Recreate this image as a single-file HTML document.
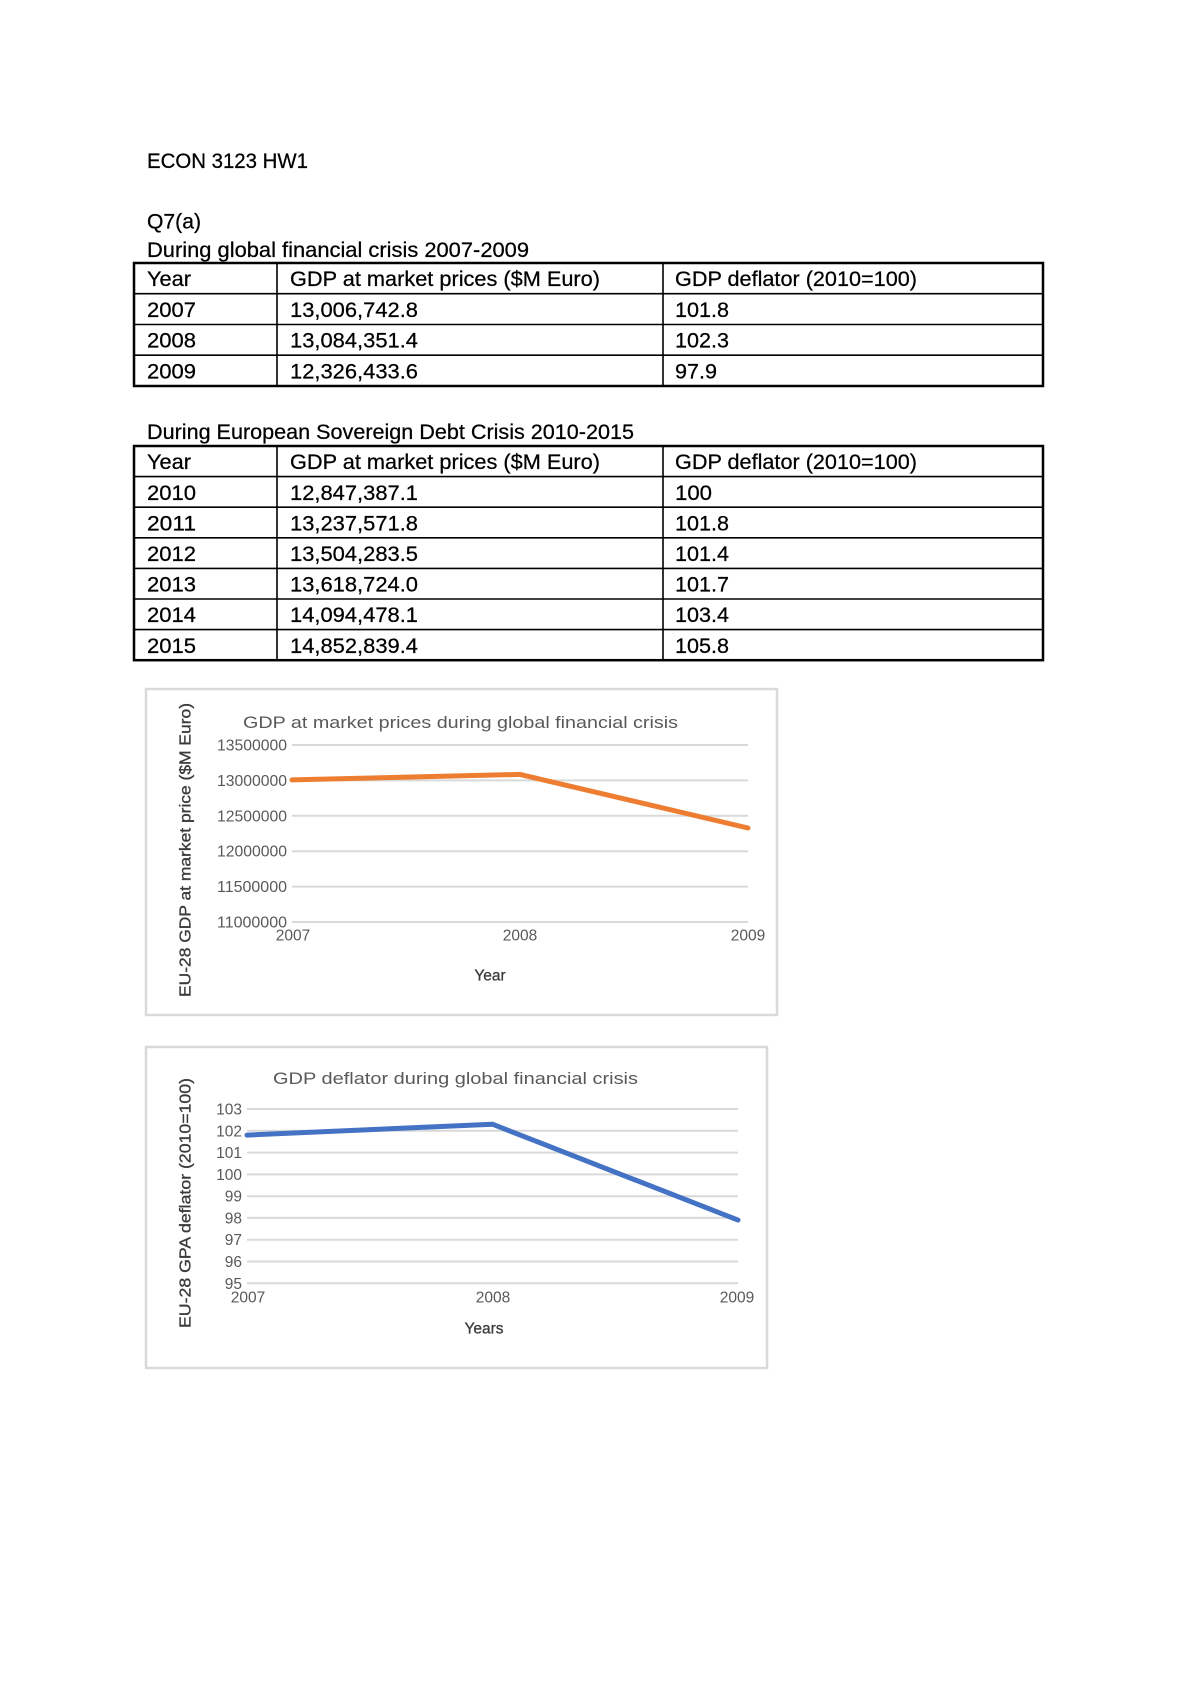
<!DOCTYPE html>
<html>
<head>
<meta charset="utf-8">
<style>
  html, body { margin: 0; padding: 0; background: #ffffff; }
  body { width: 1200px; height: 1698px; overflow: hidden; }
  svg { display: block; }
  .doc { font-family: "Liberation Sans", sans-serif; font-size: 21px; fill: #000; stroke: #000; stroke-width: 0.25px; }
  .ct { font-family: "Liberation Sans", sans-serif; font-size: 15.5px; fill: #595959; }
  .ttl { font-family: "Liberation Sans", sans-serif; font-size: 17px; fill: #595959; }
  .ax { font-family: "Liberation Sans", sans-serif; font-size: 15.5px; fill: #3a3a3a; stroke: #3a3a3a; stroke-width: 0.3px; }
</style>
</head>
<body>
<svg width="1200" height="1698" viewBox="0 0 1200 1698" xmlns="http://www.w3.org/2000/svg">
  <rect x="0" y="0" width="1200" height="1698" fill="#ffffff"/>

  <!-- Header text -->
  <text class="doc" x="147" y="168" textLength="161" lengthAdjust="spacingAndGlyphs">ECON 3123 HW1</text>
  <text class="doc" x="147" y="228.5" textLength="54" lengthAdjust="spacingAndGlyphs">Q7(a)</text>
  <text class="doc" x="147" y="257" textLength="382" lengthAdjust="spacingAndGlyphs">During global financial crisis 2007-2009</text>

  <!-- Table 1 -->
  <g stroke="#000" fill="none">
    <rect x="134" y="263" width="909" height="123" stroke-width="2.5"/>
    <line x1="134" y1="293.7" x2="1043" y2="293.7" stroke-width="1.6"/>
    <line x1="134" y1="324.5" x2="1043" y2="324.5" stroke-width="1.6"/>
    <line x1="134" y1="355.2" x2="1043" y2="355.2" stroke-width="1.6"/>
    <line x1="277" y1="263" x2="277" y2="386" stroke-width="1.6"/>
    <line x1="663" y1="263" x2="663" y2="386" stroke-width="1.6"/>
  </g>
  <g class="doc">
    <text x="147" y="286" textLength="44" lengthAdjust="spacingAndGlyphs">Year</text>
    <text x="290" y="286" textLength="310" lengthAdjust="spacingAndGlyphs">GDP at market prices ($M Euro)</text>
    <text x="675" y="286" textLength="242" lengthAdjust="spacingAndGlyphs">GDP deflator (2010=100)</text>

    <text x="147" y="316.8" textLength="49" lengthAdjust="spacingAndGlyphs">2007</text>
    <text x="290" y="316.8" textLength="128" lengthAdjust="spacingAndGlyphs">13,006,742.8</text>
    <text x="675" y="316.8" textLength="54" lengthAdjust="spacingAndGlyphs">101.8</text>

    <text x="147" y="347.5" textLength="49" lengthAdjust="spacingAndGlyphs">2008</text>
    <text x="290" y="347.5" textLength="128" lengthAdjust="spacingAndGlyphs">13,084,351.4</text>
    <text x="675" y="347.5" textLength="54" lengthAdjust="spacingAndGlyphs">102.3</text>

    <text x="147" y="378.3" textLength="49" lengthAdjust="spacingAndGlyphs">2009</text>
    <text x="290" y="378.3" textLength="128" lengthAdjust="spacingAndGlyphs">12,326,433.6</text>
    <text x="675" y="378.3" textLength="42" lengthAdjust="spacingAndGlyphs">97.9</text>
  </g>

  <!-- Table 2 heading -->
  <text class="doc" x="147" y="439" textLength="487" lengthAdjust="spacingAndGlyphs">During European Sovereign Debt Crisis 2010-2015</text>

  <!-- Table 2 -->
  <g stroke="#000" fill="none">
    <rect x="134" y="446" width="909" height="214.2" stroke-width="2.5"/>
    <line x1="134" y1="476.6" x2="1043" y2="476.6" stroke-width="1.6"/>
    <line x1="134" y1="507.2" x2="1043" y2="507.2" stroke-width="1.6"/>
    <line x1="134" y1="537.8" x2="1043" y2="537.8" stroke-width="1.6"/>
    <line x1="134" y1="568.4" x2="1043" y2="568.4" stroke-width="1.6"/>
    <line x1="134" y1="599" x2="1043" y2="599" stroke-width="1.6"/>
    <line x1="134" y1="629.6" x2="1043" y2="629.6" stroke-width="1.6"/>
    <line x1="277" y1="446" x2="277" y2="660.2" stroke-width="1.6"/>
    <line x1="663" y1="446" x2="663" y2="660.2" stroke-width="1.6"/>
  </g>
  <g class="doc">
    <text x="147" y="469" textLength="44" lengthAdjust="spacingAndGlyphs">Year</text>
    <text x="290" y="469" textLength="310" lengthAdjust="spacingAndGlyphs">GDP at market prices ($M Euro)</text>
    <text x="675" y="469" textLength="242" lengthAdjust="spacingAndGlyphs">GDP deflator (2010=100)</text>

    <text x="147" y="499.8" textLength="49" lengthAdjust="spacingAndGlyphs">2010</text>
    <text x="290" y="499.8" textLength="128" lengthAdjust="spacingAndGlyphs">12,847,387.1</text>
    <text x="675" y="499.8" textLength="37" lengthAdjust="spacingAndGlyphs">100</text>

    <text x="147" y="530.4" textLength="49" lengthAdjust="spacingAndGlyphs">2011</text>
    <text x="290" y="530.4" textLength="128" lengthAdjust="spacingAndGlyphs">13,237,571.8</text>
    <text x="675" y="530.4" textLength="54" lengthAdjust="spacingAndGlyphs">101.8</text>

    <text x="147" y="561" textLength="49" lengthAdjust="spacingAndGlyphs">2012</text>
    <text x="290" y="561" textLength="128" lengthAdjust="spacingAndGlyphs">13,504,283.5</text>
    <text x="675" y="561" textLength="54" lengthAdjust="spacingAndGlyphs">101.4</text>

    <text x="147" y="591.6" textLength="49" lengthAdjust="spacingAndGlyphs">2013</text>
    <text x="290" y="591.6" textLength="128" lengthAdjust="spacingAndGlyphs">13,618,724.0</text>
    <text x="675" y="591.6" textLength="54" lengthAdjust="spacingAndGlyphs">101.7</text>

    <text x="147" y="622.2" textLength="49" lengthAdjust="spacingAndGlyphs">2014</text>
    <text x="290" y="622.2" textLength="128" lengthAdjust="spacingAndGlyphs">14,094,478.1</text>
    <text x="675" y="622.2" textLength="54" lengthAdjust="spacingAndGlyphs">103.4</text>

    <text x="147" y="652.8" textLength="49" lengthAdjust="spacingAndGlyphs">2015</text>
    <text x="290" y="652.8" textLength="128" lengthAdjust="spacingAndGlyphs">14,852,839.4</text>
    <text x="675" y="652.8" textLength="54" lengthAdjust="spacingAndGlyphs">105.8</text>
  </g>

  <!-- ============ Chart 1 ============ -->
  <rect x="146" y="689" width="631" height="326" fill="#ffffff" stroke="#d9d9d9" stroke-width="2.5"/>
  <text class="ttl" x="243" y="728" textLength="435" lengthAdjust="spacingAndGlyphs">GDP at market prices during global financial crisis</text>
  <g stroke="#d9d9d9" stroke-width="2">
    <line x1="292" y1="745" x2="748" y2="745"/>
    <line x1="292" y1="780.4" x2="748" y2="780.4"/>
    <line x1="292" y1="815.8" x2="748" y2="815.8"/>
    <line x1="292" y1="851.2" x2="748" y2="851.2"/>
    <line x1="292" y1="886.6" x2="748" y2="886.6"/>
    <line x1="292" y1="922" x2="748" y2="922"/>
  </g>
  <g class="ct" text-anchor="end">
    <text x="287" y="750.5" textLength="70" lengthAdjust="spacingAndGlyphs">13500000</text>
    <text x="287" y="785.9" textLength="70" lengthAdjust="spacingAndGlyphs">13000000</text>
    <text x="287" y="821.3" textLength="70" lengthAdjust="spacingAndGlyphs">12500000</text>
    <text x="287" y="856.7" textLength="70" lengthAdjust="spacingAndGlyphs">12000000</text>
    <text x="287" y="892.1" textLength="70" lengthAdjust="spacingAndGlyphs">11500000</text>
    <text x="287" y="927.5" textLength="70" lengthAdjust="spacingAndGlyphs">11000000</text>
  </g>
  <g class="ct" text-anchor="middle">
    <text x="293" y="940.5">2007</text>
    <text x="520" y="940.5">2008</text>
    <text x="748" y="940.5">2009</text>
  </g>
  <polyline points="292,779.9 520,774.4 748,828" fill="none" stroke="#ED7D31" stroke-width="5" stroke-linejoin="round" stroke-linecap="round"/>
  <text class="ax" x="0" y="0" text-anchor="middle" textLength="294" lengthAdjust="spacingAndGlyphs" transform="translate(190.5,850) rotate(-90)">EU-28 GDP at market price ($M Euro)</text>
  <text class="ax" x="490" y="980.5" text-anchor="middle">Year</text>

  <!-- ============ Chart 2 ============ -->
  <rect x="146" y="1047" width="621" height="321" fill="#ffffff" stroke="#d9d9d9" stroke-width="2.5"/>
  <text class="ttl" x="273" y="1084" textLength="365" lengthAdjust="spacingAndGlyphs">GDP deflator during global financial crisis</text>
  <g stroke="#d9d9d9" stroke-width="2">
    <line x1="247" y1="1109" x2="738" y2="1109"/>
    <line x1="247" y1="1130.8" x2="738" y2="1130.8"/>
    <line x1="247" y1="1152.6" x2="738" y2="1152.6"/>
    <line x1="247" y1="1174.4" x2="738" y2="1174.4"/>
    <line x1="247" y1="1196.2" x2="738" y2="1196.2"/>
    <line x1="247" y1="1217.9" x2="738" y2="1217.9"/>
    <line x1="247" y1="1239.7" x2="738" y2="1239.7"/>
    <line x1="247" y1="1261.5" x2="738" y2="1261.5"/>
    <line x1="247" y1="1283.3" x2="738" y2="1283.3"/>
  </g>
  <g class="ct" text-anchor="end">
    <text x="242" y="1114.5">103</text>
    <text x="242" y="1136.3">102</text>
    <text x="242" y="1158.1">101</text>
    <text x="242" y="1179.9">100</text>
    <text x="242" y="1201.7">99</text>
    <text x="242" y="1223.4">98</text>
    <text x="242" y="1245.2">97</text>
    <text x="242" y="1267">96</text>
    <text x="242" y="1288.8">95</text>
  </g>
  <g class="ct" text-anchor="middle">
    <text x="248" y="1302.5">2007</text>
    <text x="493" y="1302.5">2008</text>
    <text x="737" y="1302.5">2009</text>
  </g>
  <polyline points="247,1135.1 492.5,1124.2 738,1220.1" fill="none" stroke="#4472C4" stroke-width="5" stroke-linejoin="round" stroke-linecap="round"/>
  <text class="ax" x="0" y="0" text-anchor="middle" textLength="250" lengthAdjust="spacingAndGlyphs" transform="translate(190.5,1203) rotate(-90)">EU-28 GPA deflator (2010=100)</text>
  <text class="ax" x="484" y="1333.5" text-anchor="middle">Years</text>
</svg>
</body>
</html>
